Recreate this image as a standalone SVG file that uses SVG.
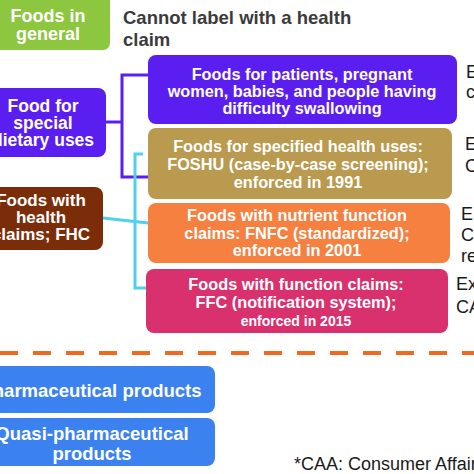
<svg xmlns="http://www.w3.org/2000/svg" width="474" height="474" viewBox="0 0 474 474">
<style>
.bt{font-family:"Liberation Sans",Arial,sans-serif;font-weight:bold;fill:#fff;text-anchor:middle}
.bx{font-size:16.3px}
.gt{font-family:"Liberation Sans",Arial,sans-serif;font-weight:bold;fill:#3b3b3b}
.rt{font-family:"Liberation Sans",Arial,sans-serif;font-size:18px;fill:#1a1a1a}
.pc{fill:none;stroke:#5a1ef0;stroke-width:3}
.cc{fill:none;stroke:#4ed0ee;stroke-width:3}
</style>
<rect width="474" height="474" fill="#fff"/>
<g id="foods-general">
<rect x="-10" y="-8" width="120" height="58" rx="7" fill="#8dc63f"/>
<text class="bt" font-size="18" x="48" y="22">Foods in</text>
<text class="bt" font-size="18" x="48" y="40">general</text>
</g>
<text class="gt" font-size="18.5" x="123" y="24">Cannot label with a health</text>
<text class="gt" font-size="18.5" x="123" y="46">claim</text>
<g id="connectors">
<path class="pc" d="M106,122 H122 M148,75 H122 V177 H150"/>
<path class="cc" d="M103,218 L148,223 M143,154 H135 V288 H146"/>
<line x1="0" y1="353" x2="474" y2="353" stroke="#ee6a20" stroke-width="4" stroke-dasharray="18 15"/>
</g>
<g id="special-dietary">
<rect x="-30" y="88" width="136" height="69" rx="8" fill="#5a1ef0"/>
<text class="bt" font-size="17.5" x="43" y="112">Food for</text>
<text class="bt" font-size="17.5" x="43" y="129">special</text>
<text class="bt" font-size="17.5" x="43" y="146">dietary uses</text>
</g>
<g id="fhc">
<rect x="-30" y="187" width="133" height="63" rx="8" fill="#7b2d0a"/>
<text class="bt" font-size="17" x="41" y="206">Foods with</text>
<text class="bt" font-size="17" x="41" y="223">health</text>
<text class="bt" font-size="17" x="41" y="240">claims; FHC</text>
</g>
<g id="patients">
<rect x="148" y="55" width="309" height="69" rx="8" fill="#5a1ef0"/>
<text class="bt bx" x="302" y="80">Foods for patients, pregnant</text>
<text class="bt bx" x="302" y="97">women, babies, and people having</text>
<text class="bt bx" x="302" y="114">difficulty swallowing</text>
<text class="rt" x="466" y="78">E</text>
<text class="rt" x="466" y="98">c</text>
</g>
<g id="foshu">
<rect x="148" y="128" width="304" height="71" rx="8" fill="#b99a4e"/>
<text class="bt bx" x="298" y="152">Foods for specified health uses:</text>
<text class="bt bx" x="298" y="170">FOSHU (case-by-case screening);</text>
<text class="bt bx" x="298" y="188">enforced in 1991</text>
<text class="rt" x="465" y="150">E</text>
<text class="rt" x="465" y="172">C</text>
</g>
<g id="fnfc">
<rect x="148" y="203" width="302" height="60" rx="8" fill="#f58040"/>
<text class="bt bx" x="297" y="221">Foods with nutrient function</text>
<text class="bt bx" x="297" y="239">claims: FNFC (standardized);</text>
<text class="bt bx" x="297" y="256">enforced in 2001</text>
<text class="rt" x="461" y="220">E</text>
<text class="rt" x="461" y="241">C</text>
<text class="rt" x="461" y="262">re</text>
</g>
<g id="ffc">
<rect x="146" y="269" width="302" height="64" rx="8" fill="#d9306e"/>
<text class="bt bx" x="296" y="290">Foods with function claims:</text>
<text class="bt bx" x="296" y="308">FFC (notification system);</text>
<text class="bt" font-size="14" x="296" y="326">enforced in 2015</text>
<text class="rt" x="456" y="290">Ex</text>
<text class="rt" x="456" y="313">CA</text>
</g>
<g id="pharma">
<rect x="-30" y="366" width="245" height="47" rx="8" fill="#3b82f0"/>
<text class="bt" font-size="18.5" x="91" y="397">Pharmaceutical products</text>
</g>
<g id="quasi">
<rect x="-30" y="418" width="245" height="48" rx="8" fill="#3b82f0"/>
<text class="bt" font-size="18.5" x="92" y="440">Quasi-pharmaceutical</text>
<text class="bt" font-size="18.5" x="92" y="460">products</text>
</g>
<text class="rt" x="294" y="470">*CAA: Consumer Affairs Agency</text>
</svg>
